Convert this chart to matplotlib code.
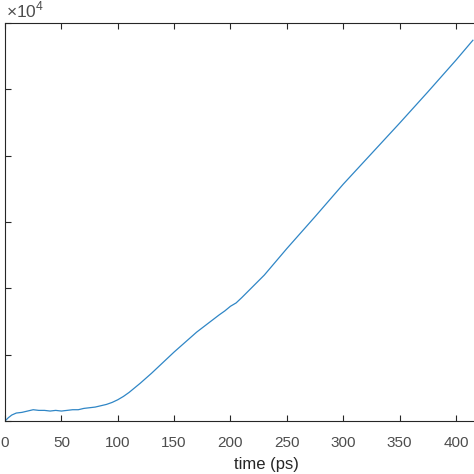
import matplotlib.pyplot as plt
import numpy as np

plt.rcParams['font.family'] = ['Liberation Sans', 'DejaVu Sans']
plt.rcParams['mathtext.fontset'] = 'custom'
plt.rcParams['mathtext.rm'] = 'Liberation Sans'

# values (y in units of 1e4)
time_ps = [0, 3, 6, 10, 15, 20, 25, 30, 35, 40, 45, 50, 55, 60, 65, 70, 75,
           80, 85, 90, 95, 100, 105, 110, 115, 120, 130, 140, 150, 160, 170,
           180, 190, 195, 200, 205, 210, 220, 230, 250, 275, 300, 325, 350,
           375, 400, 415]
value_1e4 = [0, 0.05, 0.09, 0.12, 0.13, 0.15, 0.17, 0.16, 0.16, 0.15, 0.16,
             0.15, 0.16, 0.17, 0.17, 0.19, 0.20, 0.21, 0.23, 0.25, 0.28, 0.32,
             0.37, 0.43, 0.50, 0.57, 0.72, 0.88, 1.04, 1.19, 1.34, 1.47, 1.60,
             1.66, 1.73, 1.78, 1.86, 2.03, 2.20, 2.60, 3.08, 3.57, 4.03, 4.49,
             4.96, 5.44, 5.74]
x_ticks = [0, 50, 100, 150, 200, 250, 300, 350, 400]
y_ticks = [0, 1, 2, 3, 4, 5, 6]

fig = plt.figure(figsize=(4.74, 4.74), dpi=100)
# axes runs past the right edge, as in the cropped original
ax = fig.add_axes([5 / 474, 53 / 474, 522 / 474, 398 / 474])

ax.plot(time_ps, np.array(value_1e4) * 1e4, color='#2f86c6', lw=0.9)

ax.set_xlim(0, 463)
ax.set_ylim(0, 6e4)
ax.set_xticks(x_ticks)
ax.set_yticks(np.array(y_ticks) * 1e4)
ax.tick_params(direction='in', length=4, width=0.8, colors='#262626',
               labelsize=11, labelcolor='#4d4d4d', top=True, right=True,
               labelleft=False, pad=11)
for s in ax.spines.values():
    s.set_color('#262626')
    s.set_linewidth(0.8)

ax.set_xlabel('time (ps)', fontsize=12, color='#262626', labelpad=5)
ax.text(0.002, 1.006, r'$\times10^{4}$', transform=ax.transAxes,
        fontsize=12.5, color='#4d4d4d', ha='left', va='bottom')

fig.savefig('out.png', dpi=100)
